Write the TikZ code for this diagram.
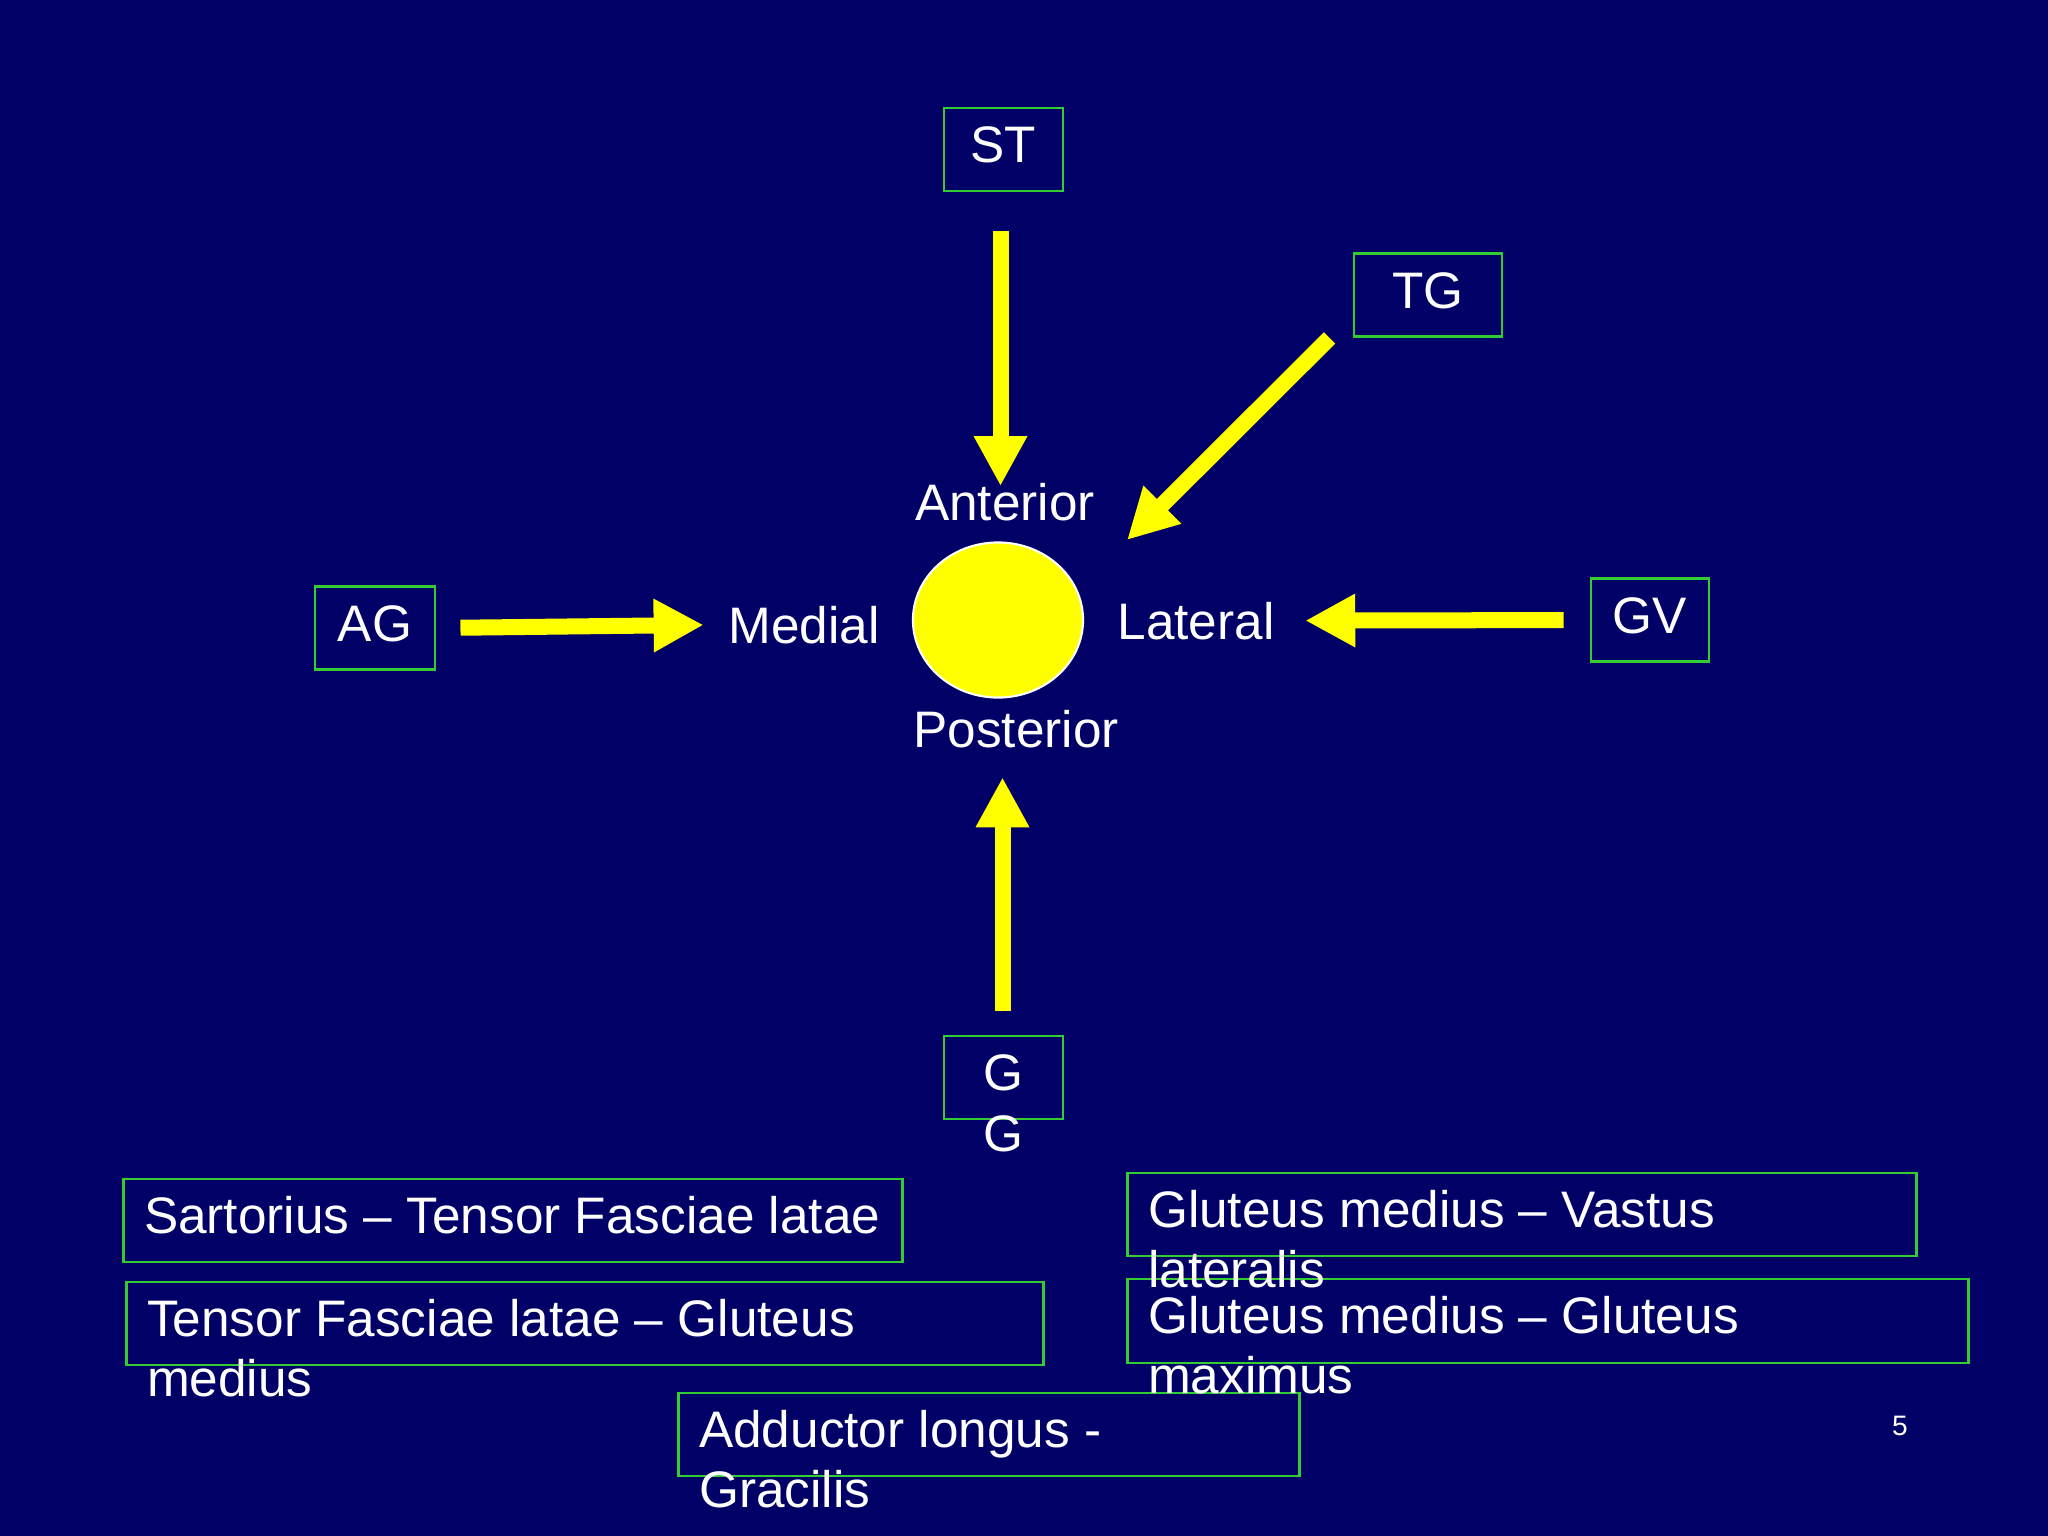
\documentclass[tikz,border=0pt]{standalone}
\usepackage{fontspec}
\setmainfont{Liberation Sans}
\usepackage{xcolor}
\usepackage{tikz}
\usetikzlibrary{arrows.meta,positioning,shapes.geometric,calc}
\definecolor{mNavy}{RGB}{0,0,102}
\definecolor{mGreen}{RGB}{51,204,51}
\definecolor{mYellow}{RGB}{255,255,0}
\tikzset{
tagbox/.style={rectangle,draw=mGreen,line width=0.8pt,inner sep=0pt,minimum height=0.83cm},
tagtext/.style={anchor=base,inner sep=0pt,text=white,align=center,font=\fontsize{14.6pt}{17.3pt}\selectfont},
pairtext/.style={anchor=base west,inner sep=0pt,text=white,align=left,font=\fontsize{14.6pt}{17.07pt}\selectfont},
sidetext/.style={anchor=base,inner sep=0pt,text=white,font=\fontsize{14.6pt}{17.07pt}\selectfont},
core/.style={ellipse,fill=mYellow,draw=white,line width=0.6pt,minimum width=1.7cm,minimum height=1.55cm,inner sep=0pt},
pull/.style={-{Triangle[length=0.5cm,width=0.5cm]},line width=0.16cm,draw=mYellow}
}

\begin{document}
\begin{tikzpicture}[x=0.01cm,y=-0.01cm]
\fill[mNavy] (0,0) rectangle (2048,1536);
\useasboundingbox (0,0) rectangle (2048,1536);
\node[core] (hip) at (998,620) {};
\node[sidetext] (ant) at (1005,520) {Anterior};
\node[sidetext] (med) at (804,643) {Medial};
\node[sidetext] (lat) at (1196,639) {Lateral};
\node[sidetext] (post) at (1016,747) {Posterior};
\node[tagbox,minimum width=1.19cm] (st) at (1003.5,149.5) {};
\node[tagbox,minimum width=1.48cm] (tg) at (1428,295) {};
\node[tagbox,minimum width=1.20cm] (ag) at (375,628) {};
\node[tagbox,minimum width=1.18cm] (gv) at (1650,620) {};
\node[tagbox,minimum width=1.19cm] (gg) at (1003.5,1077.5) {};
\node[tagtext] (stlbl) at ([yshift=-0.56cm]st.north) {ST};
\node[tagtext] (tglbl) at ([yshift=-0.56cm]tg.north) {TG};
\node[tagtext] (aglbl) at ([yshift=-0.56cm]ag.north) {AG};
\node[tagtext] (gvlbl) at ([yshift=-0.56cm]gv.north) {GV};
\node[tagtext] (gglbl) at ([yshift=-1.17cm]gg.north) {G\\G};
\coordinate (tgtip) at (1127,540);
\draw[pull,shorten <=0.39cm,shorten >=-0.04cm] ([xshift=-0.03cm]st.south) -- ([xshift=-0.03cm]st.south |- ant.north);
\draw[pull] ([xshift=-0.23cm]tg.south west) -- (tgtip);
\draw[pull,shorten <=0.24cm,shorten >=0.24cm] (ag.east) -- (med.west);
\draw[pull,shorten <=0.26cm,shorten >=0.30cm] (gv.west) -- (lat.east);
\draw[pull,shorten <=0.24cm,shorten >=0.29cm] ([xshift=-0.01cm]gg.north) -- ([xshift=-0.01cm]gg.north |- post.south);
\node[tagbox,minimum width=7.78cm] (sar) at (513,1220.5) {};
\node[tagbox,minimum width=9.16cm] (tfl) at (585,1323.5) {};
\node[tagbox,minimum width=7.88cm] (gmv) at (1522,1214.5) {};
\node[tagbox,minimum width=8.40cm,minimum height=0.84cm] (gmg) at (1548,1321) {};
\node[tagbox,minimum width=6.20cm] (adg) at (989,1434.5) {};
\node[pairtext] (sarlbl) at ([xshift=0.21cm,yshift=-0.56cm]sar.north west) {Sartorius -- Tensor Fasciae latae};
\node[pairtext] (tfllbl) at ([xshift=0.21cm,yshift=-1.16cm]tfl.north west) {Tensor Fasciae latae -- Gluteus\\medius};
\node[pairtext] (gmvlbl) at ([xshift=0.21cm,yshift=-1.16cm]gmv.north west) {Gluteus medius -- Vastus\\lateralis};
\node[pairtext] (gmglbl) at ([xshift=0.21cm,yshift=-1.16cm]gmg.north west) {Gluteus medius -- Gluteus\\maximus};
\node[pairtext] (adglbl) at ([xshift=0.21cm,yshift=-1.16cm]adg.north west) {Adductor longus -\\Gracilis};
\node[anchor=base,inner sep=0pt,text=white,font=\fontsize{8pt}{9.6pt}\selectfont] (pgno) at (1900,1435) {5};
\end{tikzpicture}
\end{document}
